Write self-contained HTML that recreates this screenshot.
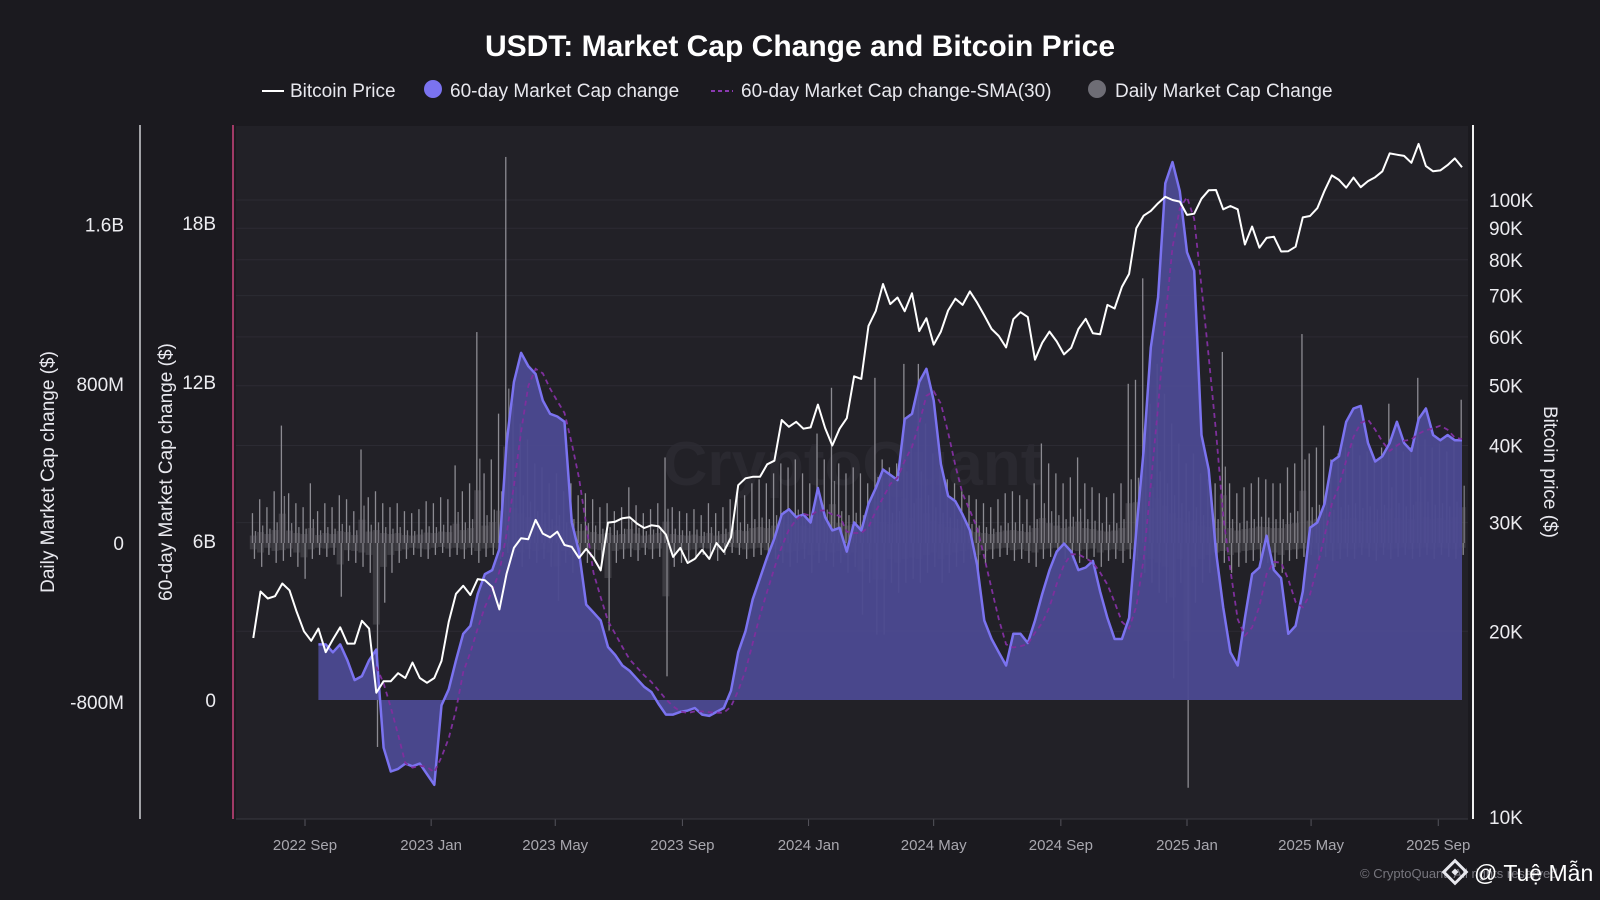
<!DOCTYPE html>
<html><head><meta charset="utf-8">
<style>
html,body{margin:0;padding:0;background:#1b1a1f;}
body{width:1600px;height:900px;overflow:hidden;font-family:"Liberation Sans",sans-serif;position:relative;}
svg{position:absolute;left:0;top:0;}
</style></head>
<body>
<svg id="chart" width="1600" height="900">
  <rect x="0" y="0" width="1600" height="900" fill="#1b1a1f"/>
  <rect x="236" y="126" width="1232" height="693" fill="#222127"/>
  <text x="800" y="56" text-anchor="middle" font-size="30" font-weight="bold" fill="#ffffff">USDT: Market Cap Change and Bitcoin Price</text>
  <g font-size="19" fill="#e8e8ee">
    <g><line x1="262" y1="91" x2="284" y2="91" stroke="#fff" stroke-width="2"/><text x="290" y="97">Bitcoin Price</text></g>
    <g><circle cx="433" cy="89" r="9" fill="#7b73f0"/><text x="450" y="97">60-day Market Cap change</text></g>
    <g><line x1="711" y1="91" x2="733" y2="91" stroke="#8a3ab0" stroke-width="2" stroke-dasharray="4,3"/><text x="741" y="97">60-day Market Cap change-SMA(30)</text></g>
    <g><circle cx="1097" cy="89" r="9" fill="#6e6d75"/><text x="1115" y="97">Daily Market Cap Change</text></g>
  </g>
  <text x="852" y="485" text-anchor="middle" font-size="62" font-weight="bold" fill="#2a2930">CryptoQuant</text>
  <g id="grid"></g>
  <g id="bars"></g>
  <g id="area"></g>
  <g id="sma"></g>
  <g id="price"></g>
  <g id="axes"></g>
  <line x1="140" y1="125" x2="140" y2="819" stroke="#cfcfd4" stroke-width="1.5"/>
  <line x1="233" y1="125" x2="233" y2="819" stroke="#a03a66" stroke-width="2"/>
  <line x1="1473" y1="125" x2="1473" y2="819" stroke="#f0f0f0" stroke-width="2"/>
  <line x1="236" y1="819" x2="1468" y2="819" stroke="#3a3940" stroke-width="1"/>
  <text transform="translate(54,472) rotate(-90)" text-anchor="middle" font-size="19" fill="#e8e8ee">Daily Market Cap change ($)</text>
  <text transform="translate(172,472) rotate(-90)" text-anchor="middle" font-size="19" fill="#e8e8ee">60-day Market Cap change ($)</text>
  <text transform="translate(1544,472) rotate(90)" text-anchor="middle" font-size="19" fill="#e8e8ee">Bitcoin price ($)</text>
  <text x="1360" y="878" font-size="13" fill="#77767e">© CryptoQuant. All rights reserved</text>
  <g transform="translate(1455,872)">
    <rect x="-8" y="-8" width="16" height="16" transform="rotate(45)" fill="none" stroke="#e8e8ee" stroke-width="3"/>
    <rect x="-2.5" y="-2.5" width="5" height="5" transform="rotate(45)" fill="#e8e8ee"/>
  </g>
  <text x="1474" y="881" font-size="23" fill="#ffffff">@ Tuệ Mẫn</text>
</svg>
<script>
const startDate = "2022-07-13";
const stepDays = 7;
const btcPrice = [19.5,23.2,22.6,22.8,23.9,23.3,21.5,20.0,19.3,20.2,18.5,19.4,20.3,19.1,19.1,20.8,20.2,15.9,16.6,16.6,17.1,16.8,17.8,16.8,16.5,
16.8,17.9,20.7,23.0,23.7,22.9,24.3,24.2,23.6,21.7,24.8,27.3,28.3,28.2,30.3,28.8,28.4,29.0,27.6,27.4,26.3,27.2,26.3,25.1,30.0,30.1,30.5,30.6,29.9,29.4,29.7,29.6,28.7,26.4,27.3,25.8,26.2,27.1,26.2,27.8,26.9,28.4,34.5,35.4,35.6,35.6,37.3,37.8,44.0,42.9,43.7,42.6,
42.8,46.6,42.7,40.0,42.6,44.3,51.8,51.3,62.5,66.1,73.1,67.8,69.5,66.0,70.6,61.3,64.3,58.3,61.2,66.2,69.2,67.6,71.1,68.2,65.0,61.8,60.2,57.7,64.1,65.8,64.6,55.1,58.7,61.2,59.0,56.2,57.6,61.8,64.2,60.8,60.6,67.6,66.7,72.3,75.9,90.0,94.3,96.0,98.8,101.2,100.0,99.4,
94.6,95.0,100.5,103.7,103.8,96.6,97.8,96.6,84.7,90.6,83.7,86.8,87.2,82.5,82.6,84.0,93.7,94.2,97.0,103.5,109.6,107.8,104.7,108.7,104.9,107.3,108.9,111.3,119.0,118.4,117.9,114.9,123.3,113.5,111.3,111.7,113.9,116.8,113.0];
const change60d = [null,null,null,null,null,null,null,null,null,
2.1,2.1,1.8,2.1,1.5,0.75,0.9,1.5,1.9,-1.8,-2.7,-2.6,-2.4,-2.5,-2.4,-2.8,-3.2,-0.2,0.4,1.5,2.5,2.8,4.0,4.75,4.9,5.7,9.7,12.0,13.1,12.6,12.3,11.3,10.8,10.7,10.5,6.7,5.6,3.6,3.3,3.0,2.0,1.7,1.3,1.1,0.8,0.5,0.3,-0.15,-0.55,-0.55,-0.45,-0.4,-0.3,-0.55,-0.6,-0.45,-0.3,0.35,1.8,2.6,3.8,4.6,5.4,6.1,7.0,7.2,6.9,7.0,6.7,8.0,6.9,6.4,6.5,5.6,6.7,6.4,7.4,8.0,8.7,8.5,8.3,10.6,10.8,12.0,12.5,11.3,8.9,7.7,7.5,7.0,6.4,5.1,3.0,2.3,1.8,1.3,2.5,2.5,2.15,3.0,4.0,4.9,5.6,5.9,5.6,4.9,5.0,5.25,4.1,3.1,2.3,2.3,3.1,6.4,9.4,13.3,15.2,19.5,20.3,19.2,16.9,16.2,10.0,8.7,5.6,3.5,1.8,1.3,3.1,4.75,5.0,6.2,4.9,4.6,2.5,2.8,4.1,6.5,6.7,7.4,9.0,9.2,10.5,11.0,11.1,9.7,9.0,9.2,9.7,10.5,9.7,9.4,10.6,11.0,10.0,9.8,10.0,9.8,9.8];
const sma30 = [null,null,null,null,null,null,null,null,null,null,null,null,null,null,null,null,null,
1.26,0.63,-0.28,-1.3,-2.38,-2.55,-2.48,-2.53,-2.73,-2.15,-1.45,-0.38,1.05,1.8,2.7,3.51,4.11,4.84,6.26,8.08,10.13,11.85,12.5,12.33,11.75,11.28,10.83,9.68,8.38,6.6,4.8,3.88,2.98,2.5,2.0,1.53,1.23,0.93,0.68,0.36,0.03,-0.24,-0.43,-0.49,-0.43,-0.43,-0.46,-0.48,-0.48,-0.25,0.35,1.11,2.14,3.2,4.1,4.98,5.78,6.43,6.8,7.03,6.95,7.15,7.15,7.0,6.95,6.35,6.3,6.3,6.53,7.13,7.63,8.15,8.38,9.03,9.55,10.43,11.48,11.65,11.18,10.1,8.85,7.78,7.15,6.5,5.38,4.2,3.05,2.1,1.98,2.03,2.11,2.54,2.91,3.51,4.38,5.1,5.5,5.5,5.35,5.19,4.81,4.36,3.69,2.95,2.7,3.53,5.3,8.13,11.08,14.35,17.08,18.55,18.98,18.15,15.58,12.95,10.13,6.95,4.9,3.05,2.43,2.74,3.54,4.76,5.21,5.18,4.55,3.7,3.5,3.98,5.03,6.18,7.4,8.08,9.03,9.93,10.45,10.58,10.2,9.75,9.4,9.6,9.78,9.83,10.05,10.18,10.25,10.35,10.2,9.9,9.85];
const dailyMax = [150,220,180,260,590,250,200,180,300,160,200,180,240,220,160,470,230,260,200,180,200,160,150,170,210,200,230,220,390,260,300,1060,350,420,650,1940,700,600,520,400,380,300,350,260,300,240,250,220,180,200,160,180,280,190,150,170,200,430,180,160,150,170,140,200,150,180,220,260,240,300,320,300,350,400,380,420,350,300,550,420,780,400,350,380,350,300,830,420,380,400,900,500,900,600,450,380,320,300,260,240,220,200,180,220,250,260,240,220,300,500,400,350,300,330,430,300,280,250,230,250,300,800,820,1330,700,900,750,600,500,400,450,350,320,300,960,300,250,280,300,330,320,300,300,380,400,1050,450,480,590,420,450,480,500,440,460,420,480,700,500,460,480,830,520,480,500,460,520,720];
const dailyMin = [-80,-120,-60,-100,-90,-70,-120,-180,-80,-60,-70,-60,-270,-90,-100,-120,-150,-1025,-300,-150,-100,-80,-60,-70,-80,-60,-50,-70,-60,-80,-60,-100,-70,-60,-80,-50,-70,-120,-80,-100,-80,-120,-290,-100,-150,-120,-100,-80,-90,-440,-100,-80,-70,-90,-60,-80,-70,-670,-120,-100,-90,-80,-60,-70,-90,-60,-50,-60,-80,-70,-60,-90,-80,-100,-120,-100,-80,-150,-100,-90,-120,-100,-150,-120,-360,-200,-460,-460,-200,-250,-200,-180,-200,-150,-120,-200,-150,-120,-100,-80,-150,-100,-80,-70,-60,-90,-80,-100,-120,-80,-70,-60,-80,-90,-100,-80,-70,-120,-90,-80,-100,-80,-90,-150,-200,-250,-300,-680,-200,-1230,-300,-200,-150,-120,-100,-150,-120,-100,-90,-80,-100,-120,-150,-90,-80,-70,-60,-80,-70,-90,-80,-70,-80,-60,-70,-90,-60,-80,-70,-60,-80,-70,-60,-80,-60,-70,-80,-60];
const priceTicks = [10,20,30,40,50,60,70,80,90,100];
const sixtyTicks = [0,6,12,18];
const dailyTicks = [-800,0,800,1600];
const dailyTickLabels = ["-800M","0","800M","1.6B"];
const xTickDates = ["2022-09-01","2023-01-01","2023-05-01","2023-09-01","2024-01-01","2024-05-01","2024-09-01","2025-01-01","2025-05-01","2025-09-01"];
const xTickLabels = ["2022 Sep","2023 Jan","2023 May","2023 Sep","2024 Jan","2024 May","2024 Sep","2025 Jan","2025 May","2025 Sep"];

const NS = "http://www.w3.org/2000/svg";
const DAY = 86400000;
const t0 = Date.parse(startDate);
function xDate(d){ return 305 + ((Date.parse(d) - Date.parse("2022-09-01"))/DAY) * 1.034; }
function xIdx(i){ return 305 + ((t0 + i*stepDays*DAY - Date.parse("2022-09-01"))/DAY) * 1.034; }
function yPrice(k){ return 817 - 617*Math.log10(k/10); }
function y60(v){ return 700 - 26.5*v; }
function yDaily(m){ return 543 - m*0.199; }
function mk(tag, attrs, parent){ const e=document.createElementNS(NS,tag); for(const k in attrs) e.setAttribute(k,attrs[k]); parent.appendChild(e); return e; }

const grid = document.getElementById('grid');
const axes = document.getElementById('axes');
priceTicks.forEach(p=>{
  const y = yPrice(p);
  if(p>10){
    const gl = mk('line',{x1:236,x2:1468,y1:y,y2:y,stroke:'#2c2b33','stroke-width':1},grid);
    
    
  }
  const t = mk('text',{x:1489,y:y+7,'font-size':19,fill:'#ececf0'},axes);
  t.textContent = p + 'K';
  
  
});
sixtyTicks.forEach(v=>{
  const t = mk('text',{x:216,y:y60(v)+7,'font-size':19,fill:'#ececf0','text-anchor':'end'},axes);
  t.textContent = v===0 ? '0' : v + 'B';
  
  
});
dailyTicks.forEach((v,i)=>{
  const t = mk('text',{x:124,y:yDaily(v)+7,'font-size':19,fill:'#ececf0','text-anchor':'end'},axes);
  t.textContent = dailyTickLabels[i];
  
  
});
xTickDates.forEach((d,i)=>{
  const x = xDate(d);
  const tk = mk('line',{x1:x,x2:x,y1:819,y2:826,stroke:'#55545c'},axes);
  
  
  const t = mk('text',{x:x,y:850,'font-size':15,fill:'#a8a7ae','text-anchor':'middle'},axes);
  t.textContent = xTickLabels[i];
  
  
});

// daily bars
const bars = document.getElementById('bars');
dailyMax.forEach((v,i)=>{
  const x = xIdx(i);
  const y0 = yDaily(0);
  const b = mk('rect',{x:x-1.5,y:yDaily(v),width:1.3,height:y0-yDaily(v),fill:'#8c8b92'},bars);
  
  
  const b2 = mk('rect',{x:x+1.5,y:yDaily(v*0.4),width:1.3,height:y0-yDaily(v*0.4),fill:'#7a7980'},bars);
  
  
  const b3 = mk('rect',{x:x-3.5,y:yDaily(v*0.25),width:7,height:y0-yDaily(v*0.25),fill:'#6d6c73','fill-opacity':0.4},bars);
  
  
});
dailyMin.forEach((v,i)=>{
  const x = xIdx(i);
  const y0 = yDaily(0);
  const b = mk('rect',{x:x+0.5,y:y0,width:1.3,height:yDaily(v)-y0,fill:'#8c8b92'},bars);
  
  
  const b2 = mk('rect',{x:x-3.5,y:y0,width:7,height:yDaily(v*0.4)-y0,fill:'#6d6c73','fill-opacity':0.35},bars);
  
  
});

// 60d area
const area = document.getElementById('area');
let pts = [];
change60d.forEach((v,i)=>{ if(v!==null) pts.push([xIdx(i), y60(v)]); });
let d = 'M'+pts[0][0].toFixed(1)+','+y60(0)+' ' + pts.map(p=>'L'+p[0].toFixed(1)+','+p[1].toFixed(1)).join(' ') + ' L'+pts[pts.length-1][0].toFixed(1)+','+y60(0)+' Z';
const ap = mk('path',{d:d,fill:'#4c4a91','fill-opacity':0.95},area);


const al = mk('path',{d:'M'+pts.map(p=>p[0].toFixed(1)+','+p[1].toFixed(1)).join(' L'),fill:'none',stroke:'#7b73f0','stroke-width':2.5,'stroke-linejoin':'round'},area);



// SMA
const smaG = document.getElementById('sma');
let sp = [];
sma30.forEach((v,i)=>{ if(v!==null) sp.push(xIdx(i).toFixed(1)+','+y60(v).toFixed(1)); });
const sl = mk('path',{d:'M'+sp.join(' L'),fill:'none',stroke:'#7e2f9c','stroke-width':1.8,'stroke-dasharray':'5,4'},smaG);



// Price
const pg = document.getElementById('price');
const pp = btcPrice.map((v,i)=>xIdx(i).toFixed(1)+','+yPrice(v).toFixed(1));
const pl = mk('path',{d:'M'+pp.join(' L'),fill:'none',stroke:'#ffffff','stroke-width':2,'stroke-linejoin':'round'},pg);


</script>
</body></html>
